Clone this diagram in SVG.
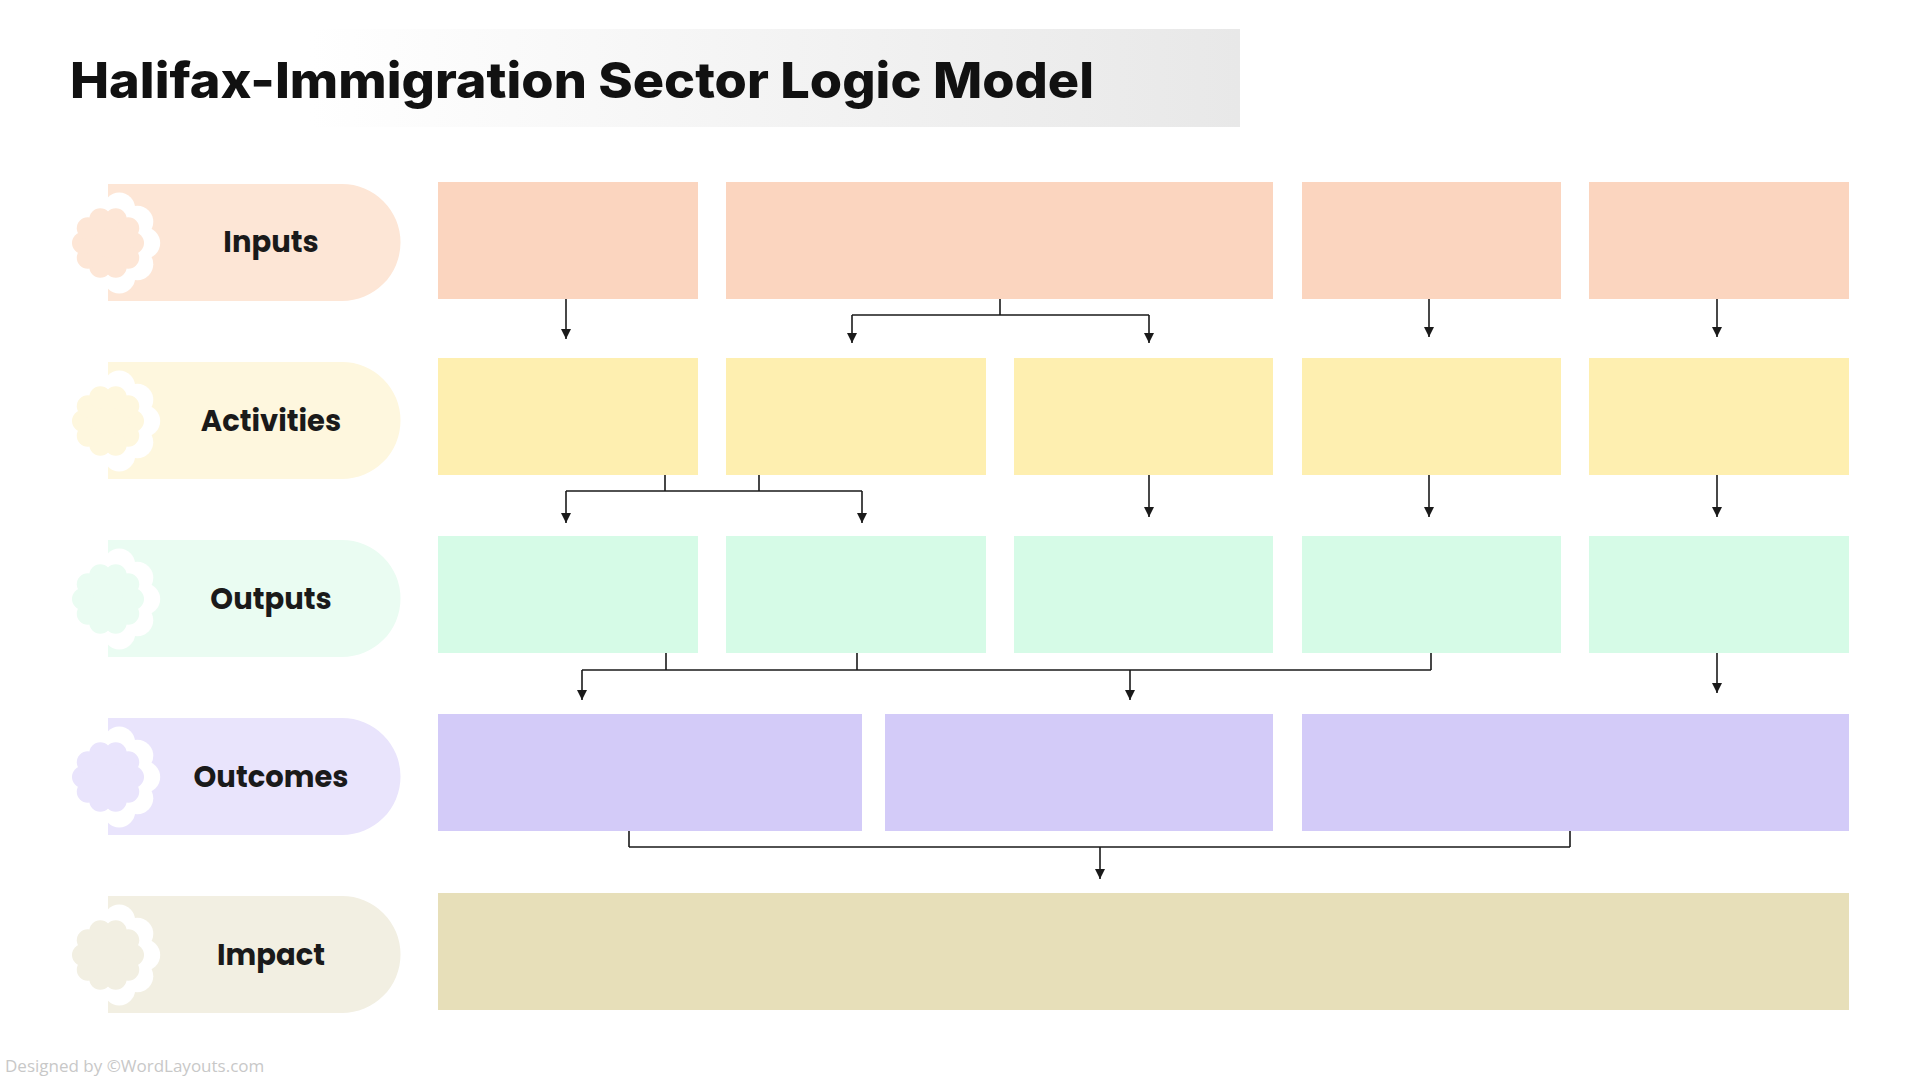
<svg xmlns="http://www.w3.org/2000/svg" xmlns:xlink="http://www.w3.org/1999/xlink" width="1920" height="1080" viewBox="0 0 1920 1080">
<defs>
<linearGradient id="tg" x1="0" x2="1" y1="0" y2="0"><stop offset="0" stop-color="#fff"/><stop offset="0.25" stop-color="#fff"/><stop offset="1" stop-color="#e8e8e8"/></linearGradient>
<g id="flower"><circle r="30"/><circle cx="25" cy="0" r="11"/><circle cx="20.23" cy="14.69" r="11"/><circle cx="7.73" cy="23.78" r="11"/><circle cx="-7.73" cy="23.78" r="11"/><circle cx="-20.23" cy="14.69" r="11"/><circle cx="-25" cy="0" r="11"/><circle cx="-20.23" cy="-14.69" r="11"/><circle cx="-7.73" cy="-23.78" r="11"/><circle cx="7.73" cy="-23.78" r="11"/><circle cx="20.23" cy="-14.69" r="11"/></g>
<marker id="ah" viewBox="0 0 10 10" refX="10" refY="5" markerWidth="10" markerHeight="10" markerUnits="userSpaceOnUse" orient="auto"><path d="M0,0 L10,5 L0,10 z" fill="#1a1a1a"/></marker>
</defs>
<style>
.lbl{font-family:Poppins,Inter,"Liberation Sans",sans-serif;font-weight:700;font-size:29px;fill:#1a1a1a;text-anchor:middle}
.c{fill:none;stroke:#1a1a1a;stroke-width:1.6}
.a{marker-end:url(#ah)}
</style>
<rect width="1920" height="1080" fill="#fff"/>
<rect x="0" y="29" width="1240" height="98" fill="url(#tg)"/>
<text x="70" y="98" font-family="Inter,'Liberation Sans',sans-serif" font-weight="800" font-size="50" fill="#111" textLength="1024" lengthAdjust="spacingAndGlyphs">Halifax-Immigration Sector Logic Model</text>

<g id="badge-inputs"><path d="M108,184 H342 A58.5,58.5 0 0 1 342,301 H108 Z" fill="#FDE6D6"/><use xlink:href="#flower" transform="translate(108,243) scale(1.45)" fill="#fff"/><use xlink:href="#flower" transform="translate(108,243)" fill="#FDE6D6"/><text class="lbl" x="271" y="252">Inputs</text></g>
<g id="badge-activities"><path d="M108,362 H342 A58.5,58.5 0 0 1 342,479 H108 Z" fill="#FEF7DE"/><use xlink:href="#flower" transform="translate(108,421) scale(1.45)" fill="#fff"/><use xlink:href="#flower" transform="translate(108,421)" fill="#FEF7DE"/><text class="lbl" x="271" y="431">Activities</text></g>
<g id="badge-outputs"><path d="M108,540 H342 A58.5,58.5 0 0 1 342,657 H108 Z" fill="#EAFCF2"/><use xlink:href="#flower" transform="translate(108,599) scale(1.45)" fill="#fff"/><use xlink:href="#flower" transform="translate(108,599)" fill="#EAFCF2"/><text class="lbl" x="271" y="609">Outputs</text></g>
<g id="badge-outcomes"><path d="M108,718 H342 A58.5,58.5 0 0 1 342,835 H108 Z" fill="#E9E4FC"/><use xlink:href="#flower" transform="translate(108,777) scale(1.45)" fill="#fff"/><use xlink:href="#flower" transform="translate(108,777)" fill="#E9E4FC"/><text class="lbl" x="271" y="787">Outcomes</text></g>
<g id="badge-impact"><path d="M108,896 H342 A58.5,58.5 0 0 1 342,1013 H108 Z" fill="#F2EFE2"/><use xlink:href="#flower" transform="translate(108,955) scale(1.45)" fill="#fff"/><use xlink:href="#flower" transform="translate(108,955)" fill="#F2EFE2"/><text class="lbl" x="271" y="965">Impact</text></g>

<g id="inputs" fill="#FBD5BF"><rect x="438" y="182" width="260" height="117"/><rect x="726" y="182" width="547" height="117"/><rect x="1302" y="182" width="259" height="117"/><rect x="1589" y="182" width="260" height="117"/></g>
<g id="activities" fill="#FEEFB0"><rect x="438" y="358" width="260" height="117"/><rect x="726" y="358" width="260" height="117"/><rect x="1014" y="358" width="259" height="117"/><rect x="1302" y="358" width="259" height="117"/><rect x="1589" y="358" width="260" height="117"/></g>
<g id="outputs" fill="#D6FBE7"><rect x="438" y="536" width="260" height="117"/><rect x="726" y="536" width="260" height="117"/><rect x="1014" y="536" width="259" height="117"/><rect x="1302" y="536" width="259" height="117"/><rect x="1589" y="536" width="260" height="117"/></g>
<g id="outcomes" fill="#D3CBF8"><rect x="438" y="714" width="424" height="117"/><rect x="885" y="714" width="388" height="117"/><rect x="1302" y="714" width="547" height="117"/></g>
<g id="impact"><rect x="438" y="893" width="1411" height="117" fill="#E7DFB9"/></g>

<g id="connectors">
<path class="c a" d="M566,299 V339"/>
<path class="c" d="M1000,299 V315 M852,315 H1149"/>
<path class="c a" d="M852,315 V343"/><path class="c a" d="M1149,315 V343"/>
<path class="c a" d="M1429,299 V337"/><path class="c a" d="M1717,299 V337"/>
<path class="c" d="M665,475 V491 M759,475 V491 M566,491 H862"/>
<path class="c a" d="M566,491 V523"/><path class="c a" d="M862,491 V523"/>
<path class="c a" d="M1149,475 V517"/><path class="c a" d="M1429,475 V517"/><path class="c a" d="M1717,475 V517"/>
<path class="c" d="M666,653 V670 M857,653 V670 M1431,653 V670 M582,670 H1431"/>
<path class="c a" d="M582,670 V700"/><path class="c a" d="M1130,670 V700"/>
<path class="c a" d="M1717,653 V693"/>
<path class="c" d="M629,831 V847 M1570,831 V847 M629,847 H1570"/>
<path class="c a" d="M1100,847 V879"/>
</g>
<text x="5" y="1072" font-family="'Open Sans','Liberation Sans',sans-serif" font-size="17" fill="#c8c8c8">Designed by ©WordLayouts.com</text>
</svg>
